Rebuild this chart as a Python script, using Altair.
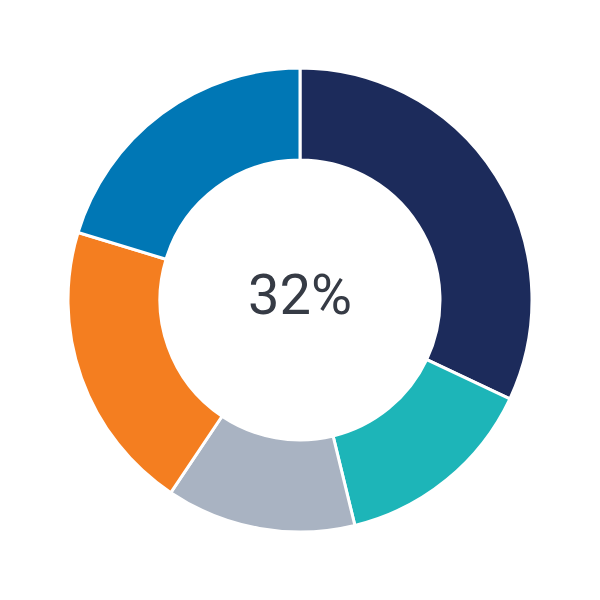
import altair as alt
import pandas as pd

categories = ["A", "B", "C", "D", "E"]
values = [32, 14.2, 13.2, 20.3, 20.3]
colors = ["#1c2b5b", "#1db5b8", "#a9b3c2", "#f47e20", "#0077b5"]
center_label = "32%"

df = pd.DataFrame({"cat": categories, "value": values, "order": list(range(len(values)))})

arcs = alt.Chart(df).mark_arc(
    outerRadius=232, innerRadius=140, stroke="white", strokeWidth=3
).encode(
    theta=alt.Theta("value:Q", stack=True),
    color=alt.Color("cat:N", scale=alt.Scale(domain=categories, range=colors), legend=None),
    order=alt.Order("order:Q"),
)

text = alt.Chart(pd.DataFrame({"t": [center_label]})).mark_text(
    fontSize=56, font="Roboto", color="#363b45", dy=-3
).encode(text="t:N")

chart = alt.layer(arcs, text).properties(
    width=584, height=584, padding=0, autosize=alt.AutoSizeParams(type="none")
).configure_view(stroke=None)

chart.save("out.html", embed_options={"renderer": "svg", "actions": False})
